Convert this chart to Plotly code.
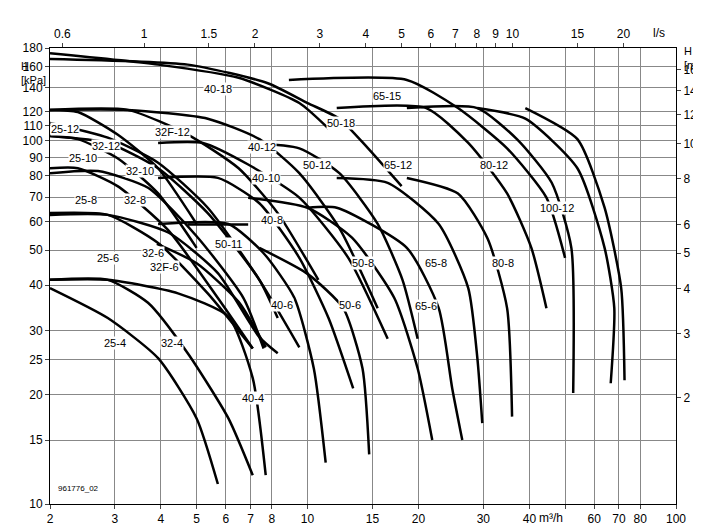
import math
import plotly.graph_objects as go

curve_names = ["25-4","32-4","40-4","25-6","32-6","32F-6","40-6","50-6","65-6",
               "25-8","32-8","40-8","50-11","50-8","65-8","80-8",
               "25-10","32-10","40-10","25-12","32-12","32F-12","40-12","50-12","65-12","80-12",
               "100-12a","100-12b","65-15","50-18","40-18"]
curve_q = {
 "25-4":[2,2.87,3.93,5.0,5.71],
 "32-4":[2,2.87,3.69,4.73,6.1,7.1],
 "40-4":[2,2.87,4.45,6.1,7.1,7.7],
 "25-6":[2,2.87,3.93,5.36,7.1],
 "32-6":[2,2.87,4.2,5.71,7.4,8.3],
 "32F-6":[3.9,5.0,6.5,7.7],
 "40-6":[3.93,6.1,7.6,9.2,10.4,11.2],
 "50-6":[7.4,10,12.5,14.1,14.7],
 "65-6":[10,12,18.6,22.7,24.7,26.3],
 "25-8":[2,2.38,3.05,4.18,5.71,7.1],
 "32-8":[2,2.7,3.69,5.0,6.7,7.6],
 "40-8":[3.93,5.71,7.4,9.5,11.4,13.3],
 "50-11":[4.73,6.9],
 "50-8":[6.9,10,13.2,17.2,19.9,21.8],
 "65-8":[12,16.5,22.7,27.3,28.9,29.8],
 "80-8":[18.6,25.6,30.8,34.8,35.9],
 "25-10":[2,2.38,3.05,3.93,5.0],
 "32-10":[2,2.87,3.93,5.36,7.4,8.3],
 "40-10":[3.93,5.2,6.9,9.5,12.9,16.5],
 "25-12":[2,2.38,3.05,3.93,5.0],
 "32-12":[2,2.87,3.93,5.36,7.4,9.5],
 "32F-12":[2,3.25,4.73,6.5,8.3,10.7],
 "40-12":[2,3.25,5.36,7.4,9.5,12.2,15.5],
 "50-12":[6.9,9.5,12.2,15.5,18.1,19.9],
 "65-12":[12,21,27.3,34.8,40.5,44.5],
 "80-12":[18.6,28.9,37,46,52,52.6],
 "100-12a":[28.9,39,54,64,68,66.5],
 "100-12b":[39,54,64,71,72.5],
 "65-15":[8.9,18.6,25.6,34.8,44.5,50],
 "50-18":[2,4.73,7.8,10,12.2,14.6,18],
 "40-18":[2,3.93,6.5,9.5,11.4],
}
curve_h = {
 "25-4":[39.3,32.5,25.2,17.2,11.35],
 "32-4":[41.4,41.4,35.8,26,17.2,12],
 "40-4":[41.4,41.4,38,32.8,22.2,12],
 "25-6":[63.2,62.5,52.3,38,26.8],
 "32-6":[62.5,62.5,55.8,43.2,28.8,26],
 "32F-6":[52,46,36,27],
 "40-6":[59,59,49,37,23.6,13.0],
 "50-6":[50.7,43,34.6,23.6,13.7],
 "65-6":[65.4,65.4,50.7,34.6,20.8,15],
 "25-8":[84,84,75,56.8,36.9,26.8],
 "32-8":[81.4,82.5,74.2,54.6,36.9,26.8],
 "40-8":[79,79,67.3,47.6,32.5,20.8],
 "50-11":[58.8,58.8],
 "50-8":[69.7,65.4,54.1,36.9,23.6,15],
 "65-8":[79,76.6,59,39.3,25.2,16.7],
 "80-8":[79,71.6,53.8,34.6,17.4],
 "25-10":[103,101,89.5,71.6,50.7],
 "32-10":[103,98.6,84,63.2,41.4,32.5],
 "40-10":[98.6,98.6,86,69.7,47.6,28.5],
 "25-12":[121.6,120,104,84,59],
 "32-12":[112,102,87,65.4,41.4,27],
 "32F-12":[121.6,121.6,104,84,63.2,41.4],
 "40-12":[121.6,121.6,115,101,81.4,57.5,34.6],
 "50-12":[98.6,95.3,81.4,59,41.4,28.5],
 "65-12":[123,123,98.6,71.6,50.7,34.6],
 "80-12":[123,123,101,76.6,50.7,20.2],
 "100-12a":[123,115,84,50.7,34.6,21.5],
 "100-12b":[123,101,65.4,39.3,21.9],
 "65-15":[147,147,123,95.3,69.7,47.6],
 "50-18":[168,162,144,127,115,95.3,75],
 "40-18":[174,162,149,127,108],
}
label_text = ["25-4","32-4","40-4","25-6","32-6","32F-6","40-6","50-6","65-6","25-8","32-8","40-8",
              "50-11","50-8","65-8","80-8","25-10","32-10","40-10","25-12","32-12","32F-12","40-12",
              "50-12","65-12","80-12","100-12","65-15","50-18","40-18"]
label_q = [3.0,4.3,7.1,2.87,3.8,4.1,8.5,13.0,21,2.5,3.4,8.0,6.1,14.1,22.3,34,2.46,3.5,7.7,2.2,2.83,4.3,7.5,10.6,17.6,32,47.5,16.4,12.3,5.7]
label_h = [27.7,27.7,19.6,47.6,49,45,35.3,35.3,35,68.5,68.5,60.5,52,46,46,46,89.5,82.5,79,108,97,106,96,85.5,85.5,85.5,65.4,132.5,112,139]

x_ticks = [2,3,4,5,6,7,8,10,15,20,30,40,50,60,70,80,100]
x_tick_text = ["2","3","4","5","6","7","8","10","15","20","30","40","","60","70","80","100"]
y_ticks = [10,15,20,25,30,40,50,60,70,80,90,100,110,120,140,160,180]
top_ticks = [0.6,1,1.5,2,3,4,5,6,7,8,9,10,15,20]
right_ticks = [2,3,4,5,6,8,10,12,14,16]

fig = go.Figure()
for n in curve_names:
    fig.add_trace(go.Scatter(x=curve_q[n], y=curve_h[n], mode="lines",
                             line=dict(color="black", width=2.5, shape="spline", smoothing=0.6),
                             showlegend=False, hoverinfo="skip"))
fig.add_trace(go.Scatter(x=[1, 20], y=[2, 16], xaxis="x2", yaxis="y2", mode="markers",
                         marker=dict(opacity=0), showlegend=False, hoverinfo="skip"))
for t, q, h in zip(label_text, label_q, label_h):
    fig.add_annotation(x=math.log10(q), y=math.log10(h), text=t, showarrow=False, bgcolor="white",
                       font=dict(size=11, color="black"), borderpad=0)

font = dict(family="Liberation Sans, Arial", size=12, color="black")
fig.update_layout(
    width=701, height=524, margin=dict(l=42, r=33, t=40, b=28),
    paper_bgcolor="white", plot_bgcolor="white", font=font,
    xaxis=dict(type="log", range=[0.30103, 2], tickvals=x_ticks, ticktext=x_tick_text, automargin=False,
               showgrid=True, gridcolor="#888", gridwidth=1, linecolor="black", linewidth=1,
               ticks="outside", ticklen=4, zeroline=False),
    yaxis=dict(type="log", range=[1, 2.25527], tickvals=y_ticks, ticktext=[str(v) for v in y_ticks],
               automargin=False, showgrid=True, gridcolor="#888", gridwidth=1, linecolor="black", linewidth=1,
               ticks="outside", ticklen=4, zeroline=False),
    xaxis2=dict(type="log", overlaying="x", side="top", range=[0.30103-0.5563, 2-0.5563], automargin=False,
                tickvals=top_ticks, ticktext=[str(v) for v in top_ticks], showgrid=False,
                linecolor="black", linewidth=1, ticks="outside", ticklen=4, anchor="y"),
    yaxis2=dict(type="log", overlaying="y", side="right", range=[1-0.99167, 2.25527-0.99167], automargin=False,
                tickvals=right_ticks, ticktext=[str(v) for v in right_ticks], showgrid=False,
                linecolor="black", linewidth=1, ticks="outside", ticklen=4, anchor="x"),
)
fig.add_annotation(xref="paper", yref="paper", x=0, y=1.0, text="H<br>[kPa]", showarrow=False,
                   xanchor="right", yanchor="top", align="left", font=dict(size=11), xshift=-2, yshift=-10)
fig.add_annotation(xref="paper", yref="paper", x=1.0, y=1.0, text="H<br>[m]", showarrow=False,
                   xanchor="left", yanchor="top", align="left", font=dict(size=11), xshift=6, yshift=5)
fig.add_annotation(xref="paper", yref="paper", x=0.985, y=1.0, text="l/s", showarrow=False,
                   yanchor="bottom", font=dict(size=12), yshift=6)
fig.add_annotation(xref="paper", yref="paper", x=math.log10(50/2)/math.log10(50), y=0.0, text="m³/h",
                   showarrow=False, yanchor="top", font=dict(size=12), yshift=-5)
fig.add_annotation(xref="paper", yref="paper", x=0.01, y=0.02, text="961776_02", showarrow=False,
                   xanchor="left", yanchor="bottom", font=dict(size=8))
fig.write_html("out.html")
